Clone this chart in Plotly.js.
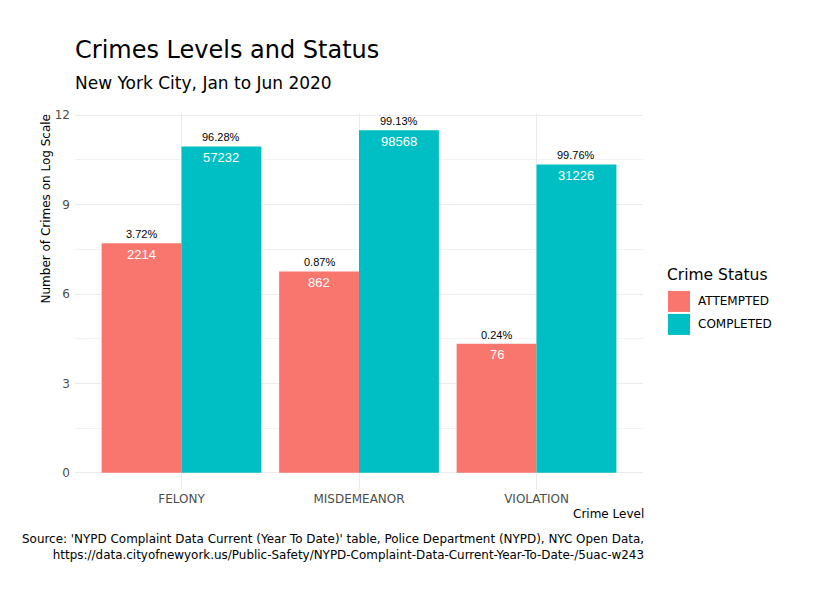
<!DOCTYPE html>
<html>
<head>
<meta charset="utf-8">
<script src="https://cdn.plot.ly/plotly-3.0.1.min.js"></script>
<style>
  html, body { margin: 0; padding: 0; background: #ffffff; }
  #chart { width: 818px; height: 600px; }
</style>
</head>
<body>
<div id="chart"></div>
<script>
// Crime levels (x categories) and crime status (series)
const crimeLevels = ["FELONY", "MISDEMEANOR", "VIOLATION"];
const statusNames = ["ATTEMPTED", "COMPLETED"];
const attemptedCounts = [2214, 862, 76];
const completedCounts = [57232, 98568, 31226];
const statusColors = ["#F8766D", "#00BFC4"];
const yTicks = [0, 3, 6, 9, 12];
const captionLines = [
  "Source: 'NYPD Complaint Data Current (Year To Date)' table, Police Department (NYPD), NYC Open Data,",
  "https://data.cityofnewyork.us/Public-Safety/NYPD-Complaint-Data-Current-Year-To-Date-/5uac-w243"
];

const seriesCounts = [attemptedCounts, completedCounts];
const barWidth = 0.45;
const offsets = [-barWidth / 2, barWidth / 2];
const levelPos = crimeLevels.map((_, i) => i);

// Totals per level, for the share labels
const totals = levelPos.map(i => attemptedCounts[i] + completedCounts[i]);

const traces = seriesCounts.map((counts, s) => ({
  type: "bar",
  name: statusNames[s],
  x: levelPos.map(i => i + offsets[s]),
  y: counts.map(v => Math.log(v)),
  width: barWidth,
  marker: { color: statusColors[s], line: { width: 0 } },
  hoverinfo: "skip",
  showlegend: false
}));

const labelFont = "Liberation Sans, Arial, sans-serif";
const annotations = [];
seriesCounts.forEach((counts, s) => {
  counts.forEach((v, i) => {
    const xPos = i + offsets[s];
    const yPos = Math.log(v);
    // share of the level total, above the bar
    annotations.push({
      x: xPos, y: yPos, xref: "x", yref: "y",
      text: (100 * v / totals[i]).toFixed(2) + "%",
      showarrow: false, yshift: 9,
      font: { family: labelFont, size: 11, color: "#000000" }
    });
    // raw count, just inside the top of the bar
    annotations.push({
      x: xPos, y: yPos, xref: "x", yref: "y",
      text: String(v),
      showarrow: false, yshift: -11,
      font: { family: labelFont, size: 13, color: "#ffffff" }
    });
  });
});

const baseFont = "DejaVu Sans, sans-serif";

// subtitle
annotations.push({
  xref: "paper", yref: "paper", x: 0, y: 1.0796, xshift: -2,
  xanchor: "left", yanchor: "middle",
  text: "New York City, Jan to Jun 2020",
  showarrow: false,
  font: { family: baseFont, size: 17, color: "#000000" }
});

// y axis title, aligned to the top of the panel
annotations.push({
  xref: "paper", yref: "paper", x: -0.0528, y: 1.0,
  xanchor: "center", yanchor: "top", textangle: -90,
  text: "Number of Crimes on Log Scale",
  showarrow: false,
  font: { family: baseFont, size: 12, color: "#000000" }
});

// x axis title, right aligned
annotations.push({
  xref: "paper", yref: "paper", x: 1.0, y: -0.0637, xshift: 3,
  xanchor: "right", yanchor: "middle",
  text: "Crime Level",
  showarrow: false,
  font: { family: baseFont, size: 12, color: "#000000" }
});

// caption, right aligned
annotations.push({
  xref: "paper", yref: "paper", x: 1.0, y: -0.1525, xshift: 3,
  xanchor: "right", yanchor: "middle", align: "right",
  text: captionLines.join("<br>"),
  showarrow: false,
  font: { family: baseFont, size: 11.95, color: "#000000" }
});

// legend: title, keys and labels
annotations.push({
  xref: "paper", yref: "paper", x: 1.0423, y: 0.570, xshift: -2,
  xanchor: "left", yanchor: "middle",
  text: "Crime Status",
  showarrow: false,
  font: { family: baseFont, size: 15.5, color: "#000000" }
});
const shapes = [];
const keyTop = [0.528, 0.467];
const keyH = 0.0557;
statusNames.forEach((name, s) => {
  shapes.push({
    type: "rect", xref: "paper", yref: "paper",
    x0: 1.044, x1: 1.0827, y0: keyTop[s] - keyH, y1: keyTop[s],
    fillcolor: statusColors[s], line: { width: 0 }
  });
  annotations.push({
    xref: "paper", yref: "paper", x: 1.0955, y: keyTop[s] - keyH / 2, xshift: -1,
    xanchor: "left", yanchor: "middle",
    text: name, showarrow: false,
    font: { family: baseFont, size: 12, color: "#000000" }
  });
});

const layout = {
  width: 818,
  height: 600,
  margin: { l: 75, r: 175, t: 113, b: 110 },
  paper_bgcolor: "#ffffff",
  plot_bgcolor: "#ffffff",
  font: { family: baseFont, color: "#000000" },
  title: {
    text: "Crimes Levels and Status",
    x: 0, xref: "paper", xanchor: "left",
    y: 1 - 50 / 600, yref: "container", yanchor: "middle",
    font: { family: baseFont, size: 24, color: "#000000" }
  },
  showlegend: false,
  barmode: "overlay",
  xaxis: {
    range: [-0.6, 2.6],
    tickvals: levelPos,
    ticktext: crimeLevels,
    showgrid: true,
    gridcolor: "#ebebeb",
    gridwidth: 1,
    zeroline: false,
    showline: false,
    ticks: "",
    ticklabelstandoff: 0,
    tickfont: { family: baseFont, size: 12, color: "#4d4d4d" },
    fixedrange: true
  },
  yaxis: {
    range: [-0.575, 12.075],
    tickvals: yTicks,
    showgrid: true,
    gridcolor: "#ebebeb",
    gridwidth: 1,
    minor: { tickvals: [1.5, 4.5, 7.5, 10.5], showgrid: true, gridcolor: "#f2f2f2", gridwidth: 1 },
    zeroline: false,
    showline: false,
    ticks: "",
    ticklabelstandoff: 4,
    tickfont: { family: baseFont, size: 12, color: "#4d4d4d" },
    fixedrange: true
  },
  annotations: annotations,
  shapes: shapes
};

Plotly.newPlot("chart", traces, layout, { displayModeBar: false, staticPlot: true });
</script>
</body>
</html>
